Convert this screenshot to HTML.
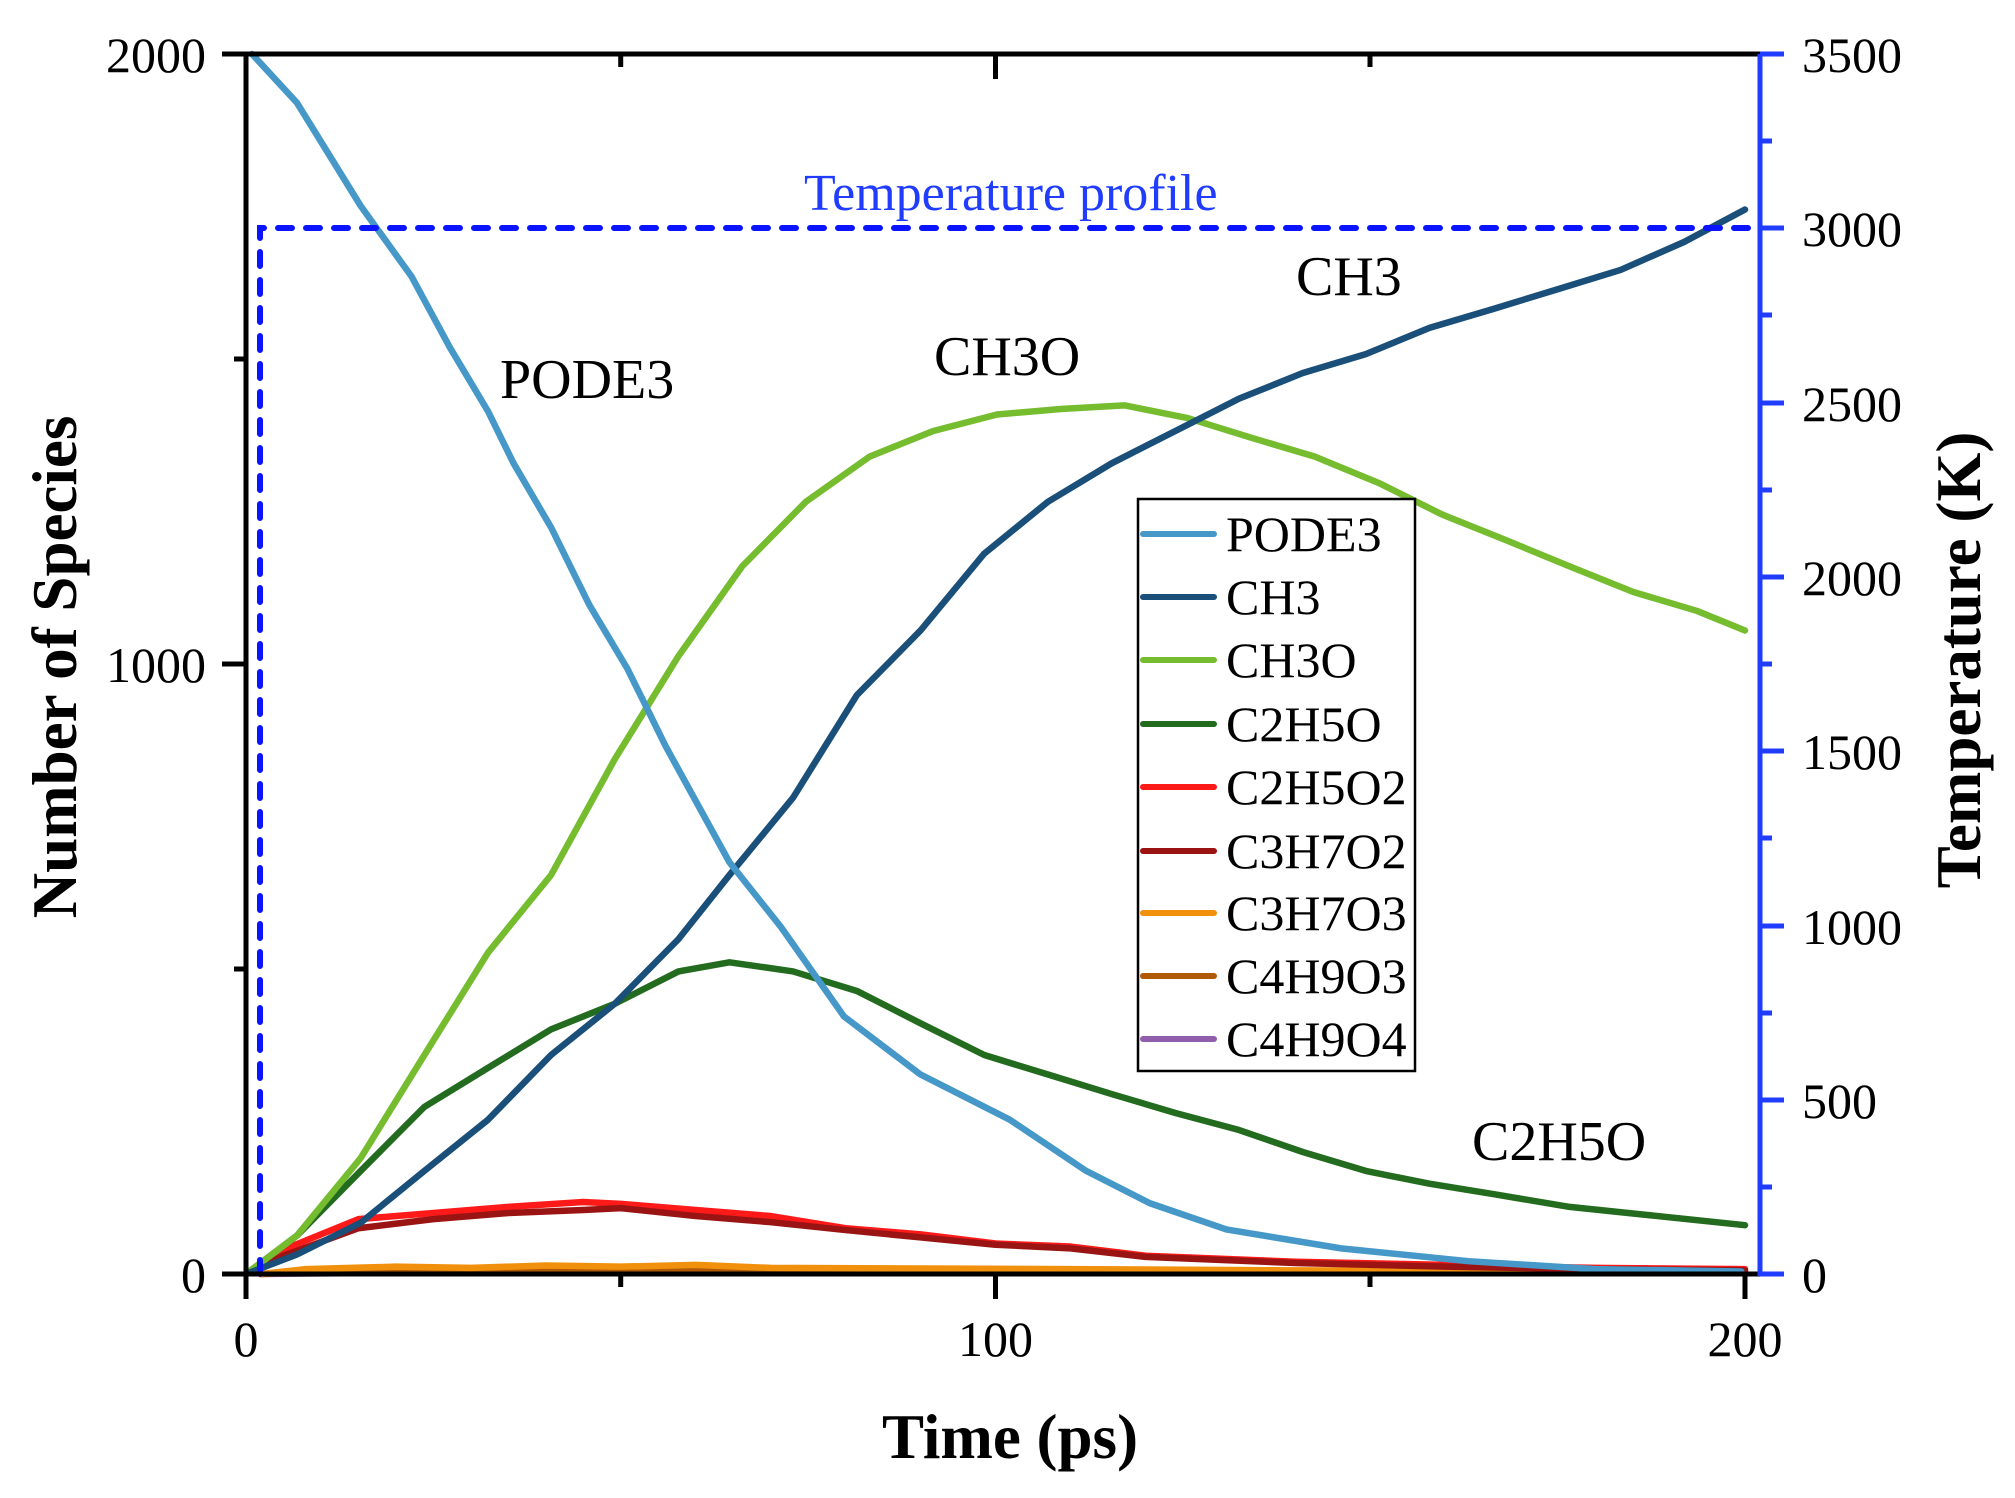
<!DOCTYPE html>
<html><head><meta charset="utf-8"><style>html,body{margin:0;padding:0;background:#fff}svg{display:block}</style></head>
<body>
<svg width="2015" height="1498" viewBox="0 0 2015 1498" xmlns="http://www.w3.org/2000/svg" font-family="'Liberation Serif', serif">
<rect width="2015" height="1498" fill="#fff"/>
<g transform="translate(246,1274) scale(7.495,-0.61)" fill="none" stroke-linejoin="round" stroke-linecap="round">
<polyline vector-effect="non-scaling-stroke" stroke="#915eab" stroke-width="6.5" points="2,0 20,2 50,3 100,3 150,2 200,2"/>
<polyline vector-effect="non-scaling-stroke" stroke="#b05a06" stroke-width="6.5" points="2,0 10,4 30,6 50,8 70,7 100,6 130,5 160,4 200,4"/>
<polyline vector-effect="non-scaling-stroke" stroke="#f0900c" stroke-width="6.5" points="2,0 8,8 20,12 30,10 40,14 50,12 60,15 70,10 90,9 110,8 140,6 170,5 200,4"/>
<polyline vector-effect="non-scaling-stroke" stroke="#ff1a1a" stroke-width="6.5" points="0,0 5,40 15,90 25,100 35,110 45,118 50,115 60,105 70,95 80,75 90,65 100,50 110,45 120,30 140,20 160,15 180,10 200,8"/>
<polyline vector-effect="non-scaling-stroke" stroke="#9b1414" stroke-width="6.5" points="0,0 5,30 15,75 25,90 35,100 45,105 50,108 60,95 70,85 80,72 90,60 100,48 110,42 120,28 140,18 160,12 180,8 200,6"/>
<polyline vector-effect="non-scaling-stroke" stroke="#236b1e" stroke-width="6.5" points="0,0 6.8,63 15.3,169 23.8,274 32.3,338 40.7,401 49.2,443 57.7,496 64.5,511 73,496 81.5,464 90,411 98.5,359 107,327 115.5,295 124,264 132.5,236 141,200 149.4,169 157.9,148 166.4,131 176.6,110 186.8,97 200,80"/>
<polyline vector-effect="non-scaling-stroke" stroke="#75bc2f" stroke-width="6.5" points="0,0 6.8,63 15.3,190 23.8,359 32.3,527 40.7,654 49.2,844 57.7,1013 66.2,1160 74.7,1266 83.2,1340 91.7,1382 100.2,1409 108.7,1418 117.2,1424 125.7,1403 134.1,1371 142.6,1340 151.1,1297 159.6,1245 168.1,1203 176.6,1160 185.1,1118 193.6,1087 200,1055"/>
<polyline vector-effect="non-scaling-stroke" stroke="#1a4f7a" stroke-width="6.5" points="0,0 6.8,32 15.3,84 23.8,169 32.3,253 40.7,359 49.2,443 57.7,549 64.5,654 73,781 81.5,949 90,1055 98.5,1181 107,1266 115.5,1329 124,1382 132.5,1435 141,1477 149.4,1508 157.9,1551 166.4,1582 174.9,1614 183.4,1646 191.9,1692 200,1745"/>
<polyline vector-effect="non-scaling-stroke" stroke="#4598c8" stroke-width="6.5" points="0.8,2000 6.8,1920 15.3,1751 22.1,1635 27.2,1519 32.3,1414 35.7,1329 40.7,1224 45.8,1097 50.9,992 56,865 64.5,675 71.3,570 79.8,422 90,327 101.9,253 112.1,169 120.6,116 130.8,73 146.1,42 163.1,21 180,8 199.5,4"/>
</g>
<polyline points="260,1274 260,228 1760,228" fill="none" stroke="#0a14ff" stroke-width="6" stroke-dasharray="14,14" stroke-linecap="round"/>
<g stroke="#000" stroke-width="5" fill="none">
<line x1="246" y1="54" x2="1760" y2="54"/>
<line x1="246" y1="54" x2="246" y2="1276"/>
<line x1="222" y1="1274" x2="1760" y2="1274"/>
<line x1="222" y1="54" x2="246" y2="54"/><line x1="222" y1="664" x2="246" y2="664"/>
<line x1="234" y1="359" x2="246" y2="359"/><line x1="234" y1="969" x2="246" y2="969"/>
<line x1="246" y1="1274" x2="246" y2="1299"/><line x1="995.5" y1="1274" x2="995.5" y2="1299"/><line x1="1745" y1="1274" x2="1745" y2="1299"/>
<line x1="620.7" y1="1274" x2="620.7" y2="1287"/><line x1="1370" y1="1274" x2="1370" y2="1287"/>
<line x1="620.7" y1="54" x2="620.7" y2="67"/><line x1="995.5" y1="54" x2="995.5" y2="79"/><line x1="1370" y1="54" x2="1370" y2="67"/>
</g>
<g stroke="#1f3cff" stroke-width="5">
<line x1="1760" y1="54" x2="1760" y2="1276"/>
<line x1="1760" y1="1274" x2="1784" y2="1274"/><line x1="1760" y1="1100" x2="1784" y2="1100"/><line x1="1760" y1="926" x2="1784" y2="926"/><line x1="1760" y1="751" x2="1784" y2="751"/><line x1="1760" y1="577" x2="1784" y2="577"/><line x1="1760" y1="403" x2="1784" y2="403"/><line x1="1760" y1="228" x2="1784" y2="228"/><line x1="1760" y1="54" x2="1784" y2="54"/>
<line x1="1760" y1="1187" x2="1772" y2="1187"/><line x1="1760" y1="1013" x2="1772" y2="1013"/><line x1="1760" y1="838" x2="1772" y2="838"/><line x1="1760" y1="664" x2="1772" y2="664"/><line x1="1760" y1="490" x2="1772" y2="490"/><line x1="1760" y1="315" x2="1772" y2="315"/><line x1="1760" y1="141" x2="1772" y2="141"/>
</g>
<g font-size="50" fill="#000">
<g text-anchor="end"><text x="206" y="72">2000</text><text x="206" y="682">1000</text><text x="206" y="1292">0</text></g>
<g text-anchor="middle"><text x="246" y="1356">0</text><text x="995.5" y="1356">100</text><text x="1745" y="1356">200</text></g>
<g><text x="1802" y="1292">0</text><text x="1802" y="1118">500</text><text x="1802" y="944">1000</text><text x="1802" y="769">1500</text><text x="1802" y="595">2000</text><text x="1802" y="421">2500</text><text x="1802" y="246">3000</text><text x="1802" y="72">3500</text></g>
</g>
<text x="1010" y="1458" font-size="63" font-weight="bold" text-anchor="middle">Time (ps)</text>
<text transform="translate(76,667) rotate(-90)" font-size="63" font-weight="bold" text-anchor="middle">Number of Species</text>
<text transform="translate(1980,660) rotate(-90)" font-size="63" font-weight="bold" text-anchor="middle">Temperature (K)</text>
<g font-size="56">
<text x="500" y="398">PODE3</text><text x="934" y="375">CH3O</text><text x="1296" y="295">CH3</text><text x="1472" y="1160">C2H5O</text>
</g>
<text x="804" y="210" font-size="52" fill="#1f3cff">Temperature profile</text>
<rect x="1138" y="499" width="277" height="572" fill="#fff" stroke="#000" stroke-width="2.5"/>
<g stroke-width="6" stroke-linecap="round">
<line x1="1143" y1="534" x2="1214" y2="534" stroke="#4598c8"/>
<line x1="1143" y1="597" x2="1214" y2="597" stroke="#1a4f7a"/>
<line x1="1143" y1="660" x2="1214" y2="660" stroke="#75bc2f"/>
<line x1="1143" y1="724" x2="1214" y2="724" stroke="#236b1e"/>
<line x1="1143" y1="787" x2="1214" y2="787" stroke="#ff1a1a"/>
<line x1="1143" y1="851" x2="1214" y2="851" stroke="#9b1414"/>
<line x1="1143" y1="913" x2="1214" y2="913" stroke="#f0900c"/>
<line x1="1143" y1="976" x2="1214" y2="976" stroke="#b05a06"/>
<line x1="1143" y1="1039" x2="1214" y2="1039" stroke="#915eab"/>
</g>
<g font-size="50">
<text x="1226" y="551">PODE3</text><text x="1226" y="614">CH3</text><text x="1226" y="677">CH3O</text><text x="1226" y="741">C2H5O</text><text x="1226" y="804">C2H5O2</text><text x="1226" y="868">C3H7O2</text><text x="1226" y="930">C3H7O3</text><text x="1226" y="993">C4H9O3</text><text x="1226" y="1056">C4H9O4</text>
</g>
</svg>
</body></html>
